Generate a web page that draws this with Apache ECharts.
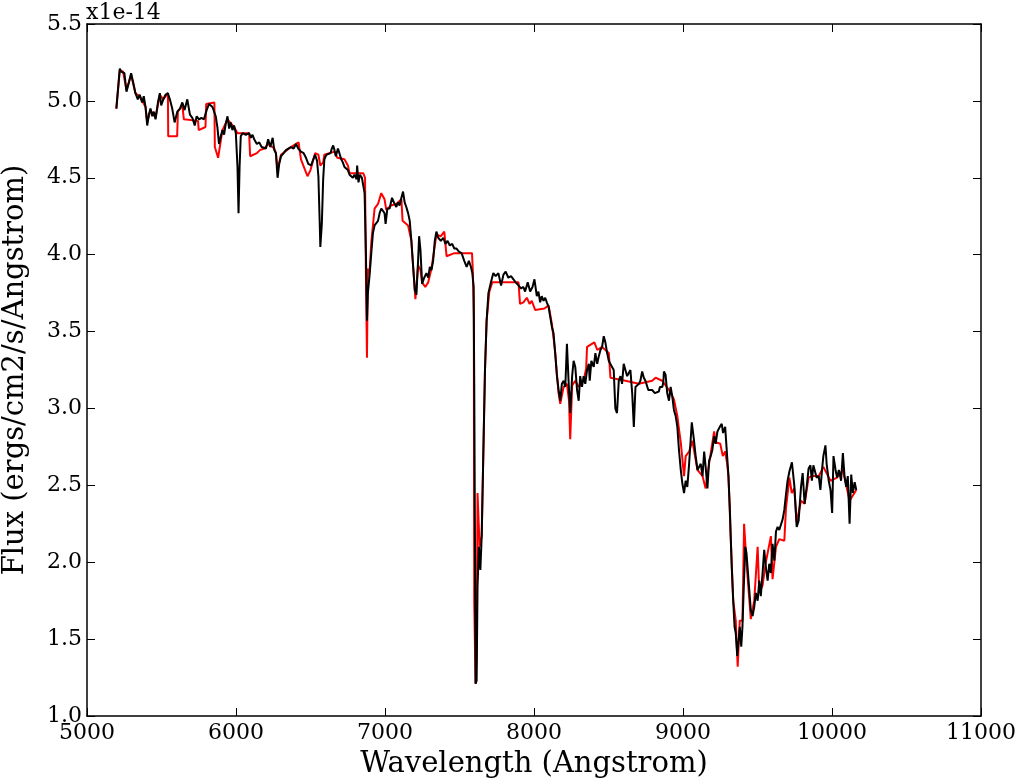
<!DOCTYPE html>
<html>
<head>
<meta charset="utf-8">
<script src="https://cdn.jsdelivr.net/npm/echarts@6/dist/echarts.min.js"></script>
<style>
  html, body { margin: 0; padding: 0; background: #fff; }
  #main { width: 1020px; height: 784px; }
</style>
</head>
<body>
<div id="main"></div>
<script>
// black spectrum (x1e-14 flux units)
var blackWave = [5197,5203,5220,5229,5242,5251,5265,5281,5296,5310,5325,5341,5354,5370,5381,5393,5404,5415,5426,5438,5449,5460,5476,5489,5498,5512,5527,5543,5556,5572,5588,5606,5624,5640,5655,5673,5691,5707,5723,5736,5752,5768,5785,5803,5819,5830,5842,5853,5864,5875,5886,5898,5909,5920,5931,5943,5954,5965,5976,5987,5999,6010,6017,6024,6032,6044,6055,6066,6077,6088,6100,6111,6122,6140,6156,6172,6185,6201,6216,6230,6246,6257,6268,6279,6290,6302,6320,6335,6351,6369,6387,6403,6418,6436,6454,6470,6485,6504,6515,6531,6544,6553,6562,6566,6576,6585,6593,6607,6620,6634,6643,6652,6661,6670,6684,6694,6706,6717,6728,6739,6751,6762,6773,6784,6795,6809,6813,6822,6832,6845,6854,6863,6872,6879,6885,6896,6908,6919,6930,6941,6953,6964,6975,6986,6997,7004,7016,7031,7047,7060,7076,7087,7098,7110,7121,7132,7143,7155,7166,7177,7189,7200,7211,7222,7229,7238,7249,7263,7278,7290,7301,7312,7323,7334,7345,7357,7375,7391,7406,7420,7435,7451,7465,7480,7496,7514,7532,7548,7563,7577,7586,7595,7599,7603,7608,7615,7621,7630,7640,7649,7660,7671,7682,7694,7711,7727,7743,7761,7779,7795,7810,7828,7846,7862,7877,7896,7913,7929,7940,7958,7974,7990,8003,8019,8030,8041,8052,8064,8075,8086,8098,8108,8120,8131,8142,8154,8165,8176,8187,8199,8210,8221,8232,8243,8256,8266,8277,8289,8300,8310,8322,8333,8344,8356,8368,8374,8385,8401,8412,8424,8435,8446,8457,8468,8479,8491,8502,8512,8524,8535,8546,8557,8569,8580,8591,8602,8613,8625,8636,8647,8659,8670,8681,8692,8704,8714,8726,8737,8748,8767,8793,8811,8838,8845,8861,8868,8872,8883,8894,8906,8917,8928,8939,8951,8962,8973,8985,8996,9007,9018,9029,9041,9059,9074,9085,9097,9108,9119,9131,9142,9152,9164,9175,9186,9197,9209,9219,9231,9247,9260,9269,9283,9292,9305,9314,9320,9327,9337,9346,9354,9364,9373,9381,9391,9399,9408,9418,9426,9440,9455,9467,9478,9489,9501,9512,9522,9534,9545,9556,9568,9579,9590,9601,9613,9624,9635,9646,9657,9669,9680,9691,9702,9714,9731,9747,9763,9776,9792,9803,9816,9830,9843,9855,9865,9875,9888,9897,9911,9922,9933,9942,9956,9964,9978,9990,10001,10010,10024,10034,10046,10061,10073,10084,10095,10106,10118,10129,10140,10152,10163];
var blackFlux = [4.95,4.96,5.21,5.19,5.20,5.18,5.06,5.12,5.18,5.12,5.05,5.01,5.04,4.99,5.03,4.96,4.84,4.91,4.95,4.90,4.93,4.88,4.99,5.05,4.97,5.01,5.04,5.05,5.01,4.95,4.86,4.93,4.95,4.99,4.94,5.01,4.91,4.89,4.84,4.90,4.88,4.89,4.88,4.94,4.98,4.99,4.96,4.95,4.90,4.83,4.72,4.77,4.81,4.78,4.85,4.90,4.82,4.86,4.81,4.84,4.79,4.57,4.27,4.57,4.77,4.79,4.80,4.78,4.77,4.79,4.76,4.78,4.75,4.72,4.73,4.70,4.71,4.69,4.75,4.70,4.76,4.68,4.66,4.50,4.59,4.64,4.66,4.68,4.69,4.70,4.69,4.72,4.69,4.67,4.66,4.63,4.59,4.58,4.61,4.65,4.61,4.51,4.20,4.05,4.20,4.49,4.62,4.65,4.64,4.66,4.69,4.71,4.68,4.64,4.69,4.66,4.62,4.60,4.57,4.58,4.55,4.52,4.53,4.50,4.52,4.49,4.58,4.47,4.52,4.50,4.51,4.40,4.01,3.57,3.75,3.86,4.01,4.14,4.19,4.20,4.22,4.27,4.30,4.31,4.27,4.20,4.30,4.30,4.37,4.34,4.31,4.34,4.32,4.37,4.41,4.34,4.31,4.27,4.22,4.09,3.92,3.77,3.74,3.96,4.12,4.03,3.81,3.85,3.88,3.85,3.92,3.90,3.96,4.09,4.15,4.11,4.09,4.11,4.07,4.09,4.06,4.07,4.04,4.04,4.02,4.01,3.96,3.92,3.96,3.92,3.88,3.79,3.14,2.27,1.21,1.23,1.84,2.10,1.95,2.17,2.71,3.25,3.57,3.75,3.82,3.88,3.86,3.88,3.80,3.87,3.89,3.85,3.86,3.84,3.82,3.80,3.78,3.79,3.76,3.82,3.76,3.79,3.84,3.73,3.76,3.69,3.73,3.70,3.72,3.69,3.66,3.60,3.53,3.49,3.36,3.21,3.12,3.05,3.16,3.18,3.14,3.42,3.18,2.97,3.21,3.31,3.27,3.12,3.05,3.21,3.14,3.21,3.16,3.25,3.29,3.18,3.31,3.27,3.36,3.29,3.34,3.38,3.40,3.47,3.43,3.36,3.31,3.29,3.27,3.25,3.00,2.97,3.18,3.21,3.16,3.29,3.30,3.21,3.23,3.25,3.10,2.88,3.14,3.13,3.16,3.18,3.24,3.20,3.18,3.12,3.12,3.10,3.11,3.14,3.14,3.17,3.24,3.22,3.10,3.05,3.14,3.08,2.99,2.95,2.88,2.73,2.60,2.51,2.45,2.53,2.49,2.64,2.91,2.79,2.69,2.60,2.61,2.64,2.56,2.72,2.62,2.48,2.66,2.69,2.73,2.82,2.77,2.85,2.88,2.90,2.84,2.88,2.75,2.56,2.36,2.17,1.97,1.75,1.58,1.54,1.39,1.49,1.58,1.45,1.58,1.84,2.10,2.06,1.88,1.69,1.65,1.71,1.80,1.75,1.88,1.78,1.93,2.08,1.97,1.88,1.99,1.93,2.12,2.01,2.20,2.23,2.21,2.21,2.28,2.34,2.44,2.53,2.59,2.65,2.50,2.23,2.27,2.49,2.58,2.38,2.49,2.61,2.63,2.53,2.63,2.64,2.55,2.56,2.47,2.60,2.69,2.76,2.64,2.53,2.47,2.32,2.69,2.60,2.55,2.60,2.53,2.71,2.56,2.49,2.56,2.25,2.57,2.45,2.52,2.47];

// red spectrum (coarser, step-like)
var redWave = [5197,5220,5242,5265,5296,5325,5354,5393,5404,5426,5460,5489,5512,5543,5545,5605,5610,5640,5650,5745,5750,5795,5800,5855,5858,5880,5909,5943,5987,6010,6088,6095,6140,6160,6190,6216,6257,6268,6279,6290,6302,6369,6403,6420,6436,6460,6480,6500,6531,6553,6566,6585,6593,6661,6680,6728,6751,6762,6854,6866,6872,6879,6885,6896,6908,6930,6953,6975,6986,6997,7009,7040,7076,7110,7118,7155,7177,7189,7204,7222,7238,7249,7270,7290,7312,7345,7375,7398,7413,7465,7584,7590,7596,7599,7608,7615,7621,7635,7649,7660,7671,7682,7700,7720,7896,7906,7929,7952,7970,7985,8008,8070,8098,8120,8142,8154,8165,8176,8199,8221,8235,8243,8256,8277,8300,8333,8350,8356,8405,8425,8457,8502,8513,8613,8704,8793,8816,8860,8906,8939,8962,8975,8985,9007,9018,9041,9063,9097,9131,9152,9175,9209,9219,9250,9267,9283,9295,9305,9320,9337,9354,9367,9381,9399,9410,9426,9455,9478,9501,9512,9534,9556,9590,9601,9624,9646,9680,9691,9714,9730,9747,9763,9792,9816,9843,9865,9911,9942,9990,10034,10073,10118,10163];
var redFlux = [4.95,5.20,5.19,5.07,5.17,5.05,5.03,4.96,4.86,4.94,4.89,5.04,5.01,5.05,4.77,4.77,4.93,4.97,4.88,4.87,4.81,4.83,4.98,4.99,4.70,4.63,4.81,4.88,4.83,4.79,4.79,4.64,4.66,4.68,4.69,4.72,4.69,4.66,4.55,4.60,4.65,4.70,4.72,4.73,4.62,4.56,4.51,4.55,4.66,4.65,4.58,4.60,4.65,4.67,4.63,4.62,4.58,4.53,4.53,4.50,3.86,3.33,3.91,3.88,4.08,4.30,4.33,4.40,4.41,4.36,4.29,4.32,4.33,4.36,4.22,4.19,4.09,3.92,3.71,3.93,3.90,3.82,3.79,3.82,3.91,4.13,4.12,4.15,3.99,4.01,4.01,3.88,3.60,1.73,1.21,1.40,2.45,2.10,2.17,2.71,3.25,3.57,3.76,3.82,3.82,3.68,3.69,3.72,3.68,3.70,3.64,3.65,3.67,3.55,3.37,3.22,3.10,3.03,3.14,3.16,3.05,2.80,3.15,3.18,3.14,3.18,3.26,3.40,3.43,3.38,3.40,3.36,3.20,3.18,3.16,3.18,3.20,3.18,3.12,3.06,2.95,2.85,2.78,2.56,2.69,2.72,2.79,2.60,2.56,2.48,2.64,2.85,2.78,2.77,2.69,2.72,2.65,2.56,2.17,1.75,1.62,1.32,1.62,1.62,2.25,2.00,1.63,1.75,2.10,1.80,1.85,2.00,2.17,1.89,2.10,2.15,2.14,2.35,2.55,2.45,2.48,2.26,2.40,2.38,2.55,2.56,2.56,2.62,2.53,2.55,2.60,2.40,2.47];

var xTicks = [5000, 11000, 1000];
var yTicks = [1.0, 5.5, 0.5];

function pairs(w, f) {
    var out = [];
    for (var i = 0; i < w.length; i++) out.push([w[i], f[i]]);
    return out;
}

var serif = 'DejaVu Serif';
var myChart = echarts.init(document.getElementById('main'));

var tickStyle = { show: true, inside: true, length: 8, lineStyle: { color: '#000', width: 1 } };
var lineStyle = { show: true, lineStyle: { color: '#000', width: 1.5 } };

option = {
    backgroundColor: '#fff',
    animation: false,
    grid: { left: 87, right: 39, top: 24, bottom: 68, containLabel: false, outerBoundsMode: 'none' },
    graphic: [
        { type: 'text', left: 86, top: 2,
          style: { text: 'x1e-14', font: '22px "DejaVu Serif"', fill: '#000' } }
    ],
    xAxis: [
        {
            type: 'value', position: 'bottom',
            min: xTicks[0], max: xTicks[1], interval: xTicks[2],
            name: 'Wavelength (Angstrom)', nameLocation: 'middle', nameGap: 34,
            nameTextStyle: { fontFamily: serif, fontSize: 29, color: '#000' },
            axisLine: lineStyle, axisTick: tickStyle,
            axisLabel: { fontFamily: serif, fontSize: 22, color: '#000', margin: 6,
                         formatter: function (v) { return String(v); } },
            splitLine: { show: false }
        },
        {
            type: 'value', position: 'top',
            min: xTicks[0], max: xTicks[1], interval: xTicks[2],
            axisLine: lineStyle, axisTick: tickStyle,
            axisLabel: { show: false }, splitLine: { show: false }
        }
    ],
    yAxis: [
        {
            type: 'value', position: 'left',
            min: yTicks[0], max: yTicks[1], interval: yTicks[2],
            name: 'Flux (ergs/cm2/s/Angstrom)', nameLocation: 'middle', nameGap: 57,
            nameRotate: 90,
            nameTextStyle: { fontFamily: serif, fontSize: 29, color: '#000' },
            axisLine: lineStyle, axisTick: tickStyle,
            axisLabel: { fontFamily: serif, fontSize: 22, color: '#000', margin: 5,
                         formatter: function (v) { return v.toFixed(1); } },
            splitLine: { show: false }
        },
        {
            type: 'value', position: 'right',
            min: yTicks[0], max: yTicks[1], interval: yTicks[2],
            axisLine: lineStyle, axisTick: tickStyle,
            axisLabel: { show: false }, splitLine: { show: false }
        }
    ],
    series: [
        {
            name: 'red', type: 'line', xAxisIndex: 0, yAxisIndex: 0,
            data: pairs(redWave, redFlux),
            showSymbol: false, symbol: 'none',
            lineStyle: { color: '#ff0000', width: 2 }
        },
        {
            name: 'black', type: 'line', xAxisIndex: 0, yAxisIndex: 0,
            data: pairs(blackWave, blackFlux),
            showSymbol: false, symbol: 'none',
            lineStyle: { color: '#000000', width: 2 }
        }
    ]
};
myChart.setOption(option);
</script>
</body>
</html>
